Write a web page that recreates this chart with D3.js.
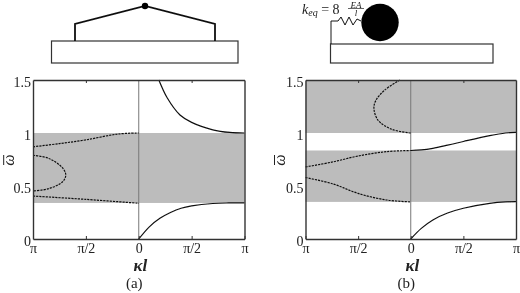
<!DOCTYPE html>
<meta charset="utf-8">
<head>
    <script src="https://d3js.org/d3.v7.min.js"></script>
    <style>
        html, body { margin: 0; background: #fff; }
        text { font-family: "Liberation Serif", serif; fill: #222; }
    </style>
</head>
<body>
<div id="chart"></div>
<script>
// kappa is in units of pi, negative side is the left half of each panel
var kappaTicks = [-1, -0.5, 0, 0.5, 1];
var kappaLabels = ["π", "π/2", "0", "π/2", "π"];
var omegaTicks = [0, 0.5, 1, 1.5];
var omegaLabels = ["0", "0.5", "1", "1.5"];

// panel (a)
var aBandLow = [0.34, 1.0];
var aLowerK = [0, 0.1, 0.2, 0.3, 0.4, 0.5, 0.7, 0.85, 1];
var aLowerW = [0, 0.115, 0.195, 0.25, 0.29, 0.312, 0.335, 0.34, 0.34];
var aUpperK = [0.19, 0.27, 0.39, 0.5, 0.7, 0.86, 1];
var aUpperW = [1.5, 1.33, 1.17, 1.1, 1.03, 1.005, 1.0];
var aDash1K = [-1, -0.75, -0.5, -0.2, 0];
var aDash1W = [0.87, 0.9, 0.935, 0.99, 1.0];
var aDash2K = [-1, -0.85, -0.72, -0.69, -0.72, -0.85, -1];
var aDash2W = [0.79, 0.76, 0.67, 0.604, 0.54, 0.475, 0.453];
var aDash3K = [-1, -0.5, 0];
var aDash3W = [0.405, 0.374, 0.337];

// panel (b)
var bBand1 = [0.35, 0.835];
var bBand2 = [1.0, 1.5];
var bLowerK = [0, 0.1, 0.21, 0.35, 0.5, 0.75, 0.9, 1];
var bLowerW = [0, 0.1, 0.18, 0.245, 0.29, 0.336, 0.35, 0.352];
var bUpperK = [0, 0.1, 0.21, 0.35, 0.5, 0.75, 0.9, 1];
var bUpperW = [0.835, 0.84, 0.855, 0.885, 0.92, 0.975, 1.0, 1.006];
var bDash1K = [-0.104, -0.247, -0.33, -0.35, -0.31, -0.18, 0];
var bDash1W = [1.5, 1.405, 1.31, 1.233, 1.12, 1.035, 1.0];
var bDash2K = [-1, -0.75, -0.5, -0.23, 0];
var bDash2W = [0.68, 0.725, 0.783, 0.824, 0.835];
var bDash3K = [-1, -0.74, -0.5, -0.23, 0];
var bDash3W = [0.58, 0.52, 0.43, 0.368, 0.35];

var svg = d3.select("#chart").append("svg")
    .attr("width", 520).attr("height", 293)
    .style("display", "block");

// scan is soft, so blur everything a little
svg.append("filter").attr("id", "soft")
    .append("feGaussianBlur").attr("stdDeviation", 0.4);
var root = svg.append("g").attr("filter", "url(#soft)");

var y = d3.scaleLinear().domain([0, 1.5]).range([239, 80]);

function panel(left, right, bands, solids, dashes, ylabelX, name) {
    var x = d3.scaleLinear().domain([-1, 1]).range([left, right]);
    var g = root.append("g");

    g.selectAll("rect.band").data(bands).enter().append("rect")
        .attr("x", x(-1))
        .attr("width", x(1) - x(-1))
        .attr("y", function(d) { return y(d[1]); })
        .attr("height", function(d) { return y(d[0]) - y(d[1]); })
        .attr("fill", "#bcbcbc");

    // line at kappa = 0
    g.append("line")
        .attr("x1", x(0)).attr("x2", x(0))
        .attr("y1", y(0)).attr("y2", y(1.5))
        .attr("stroke", "#777").attr("stroke-width", 1);

    var line = d3.line()
        .x(function(d) { return x(d[0]); })
        .y(function(d) { return y(d[1]); })
        .curve(d3.curveCatmullRom.alpha(0.5));

    g.selectAll("path.solid").data(solids).enter().append("path")
        .attr("d", function(d) { return line(d3.zip(d[0], d[1])); })
        .attr("fill", "none").attr("stroke", "#111").attr("stroke-width", 1.2);

    g.selectAll("path.dash").data(dashes).enter().append("path")
        .attr("d", function(d) { return line(d3.zip(d[0], d[1])); })
        .attr("fill", "none").attr("stroke", "#111").attr("stroke-width", 1.2)
        .attr("stroke-dasharray", "2.2,1");

    var bottom = d3.axisBottom(x).tickValues(kappaTicks)
        .tickFormat(function(d, i) { return kappaLabels[i]; })
        .tickSize(-3).tickSizeOuter(0).tickPadding(4);
    var top = d3.axisTop(x).tickValues([-0.5, 0.5])
        .tickFormat("").tickSize(-3).tickSizeOuter(0);
    var leftAxis = d3.axisLeft(y).tickValues(omegaTicks)
        .tickFormat(function(d, i) { return omegaLabels[i]; })
        .tickSize(0).tickPadding(2);
    var rightAxis = d3.axisRight(y).tickValues([]).tickSize(0);

    [[bottom, y(0), 0], [top, y(1.5), 0], [leftAxis, 0, x(-1)], [rightAxis, 0, x(1)]].forEach(function(a) {
        var ag = g.append("g").attr("transform", "translate(" + a[2] + "," + a[1] + ")").call(a[0]);
        ag.selectAll("path").attr("stroke", "#333").attr("stroke-width", 1.4);
        ag.selectAll("line").attr("stroke", "#333");
        ag.selectAll("text").style("font-size", "14px").style("font-family", '"Liberation Serif", serif').attr("fill", "#222");
    });
    g.selectAll("text").filter(function() { return this.parentNode.parentNode.getAttribute("transform") === "translate(" + x(-1) + ",0)"; })
        .attr("dy", "0.45em");

    g.append("text").attr("x", x(0) + 1.5).attr("y", 271)
        .attr("text-anchor", "middle")
        .style("font-size", "17px").style("font-style", "italic").style("font-weight", "bold")
        .text("κl");
    g.append("text").attr("x", x(0) - 4.5).attr("y", 288)
        .attr("text-anchor", "middle")
        .style("font-size", "15px")
        .text(name);
    // omega with a bar, bar drawn as a line so it sits where the reference has it
    g.append("text")
        .attr("transform", "translate(" + ylabelX + ",160) rotate(-90)")
        .attr("text-anchor", "middle")
        .style("font-size", "16px").style("font-style", "italic")
        .text("ω");
    g.append("line")
        .attr("x1", ylabelX - 10.5).attr("x2", ylabelX - 10.5)
        .attr("y1", 155).attr("y2", 165)
        .attr("stroke", "#222").attr("stroke-width", 1);
}

panel(33, 244.5, [aBandLow],
    [[aLowerK, aLowerW], [aUpperK, aUpperW]],
    [[aDash1K, aDash1W], [aDash2K, aDash2W], [aDash3K, aDash3W]], 14.2, "(a)");
panel(305.5, 516, [bBand1, bBand2],
    [[bLowerK, bLowerW], [bUpperK, bUpperW]],
    [[bDash1K, bDash1W], [bDash2K, bDash2W], [bDash3K, bDash3W]], 285, "(b)");

// sketch above panel (a)
root.append("rect").attr("x", 51.5).attr("y", 41).attr("width", 186.5).attr("height", 22)
    .attr("fill", "#fff").attr("stroke", "#333").attr("stroke-width", 1.2);
root.append("path").attr("d", "M75,41V24L145,6L215,24V41")
    .attr("fill", "none").attr("stroke", "#111").attr("stroke-width", 1.8);
root.append("circle").attr("cx", 145).attr("cy", 6).attr("r", 3.2).attr("fill", "#000");

// sketch above panel (b)
root.append("rect").attr("x", 330.5).attr("y", 44).attr("width", 162.5).attr("height", 19)
    .attr("fill", "#fff").attr("stroke", "#333").attr("stroke-width", 1.2);
root.append("path").attr("d", "M331,44V21H338L341,17L345,25L349,17L353,25L357,19L361,21")
    .attr("fill", "none").attr("stroke", "#111").attr("stroke-width", 1);
root.append("circle").attr("cx", 380).attr("cy", 22.5).attr("r", 18.7).attr("fill", "#000");

var keq = root.append("text").attr("x", 302).attr("y", 14).style("font-size", "14px").style("font-style", "italic");
keq.append("tspan").text("k");
keq.append("tspan").attr("dy", 2).style("font-size", "10px").text("eq");
keq.append("tspan").attr("dy", -2).style("font-style", "normal").text(" = 8");
root.append("text").attr("x", 356).attr("y", 7.5).attr("text-anchor", "middle")
    .style("font-size", "9px").style("font-style", "italic").text("EA");
root.append("line").attr("x1", 348).attr("x2", 364).attr("y1", 8.5).attr("y2", 8.5)
    .attr("stroke", "#222").attr("stroke-width", 0.7);
root.append("text").attr("x", 356).attr("y", 16).attr("text-anchor", "middle")
    .style("font-size", "9px").style("font-style", "italic").text("l");
</script>
</body>
